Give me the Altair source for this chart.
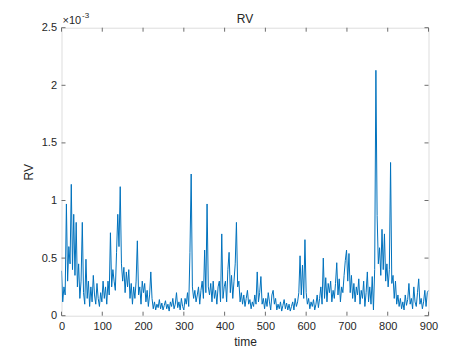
import altair as alt
import pandas as pd

# RV values, in units of 1e-3, sampled every 3 time steps
seg_starts = [0, 102, 201, 300, 402, 501, 600, 702, 801]
rv_000 = [0.39, 0.12, 0.25, 0.18, 0.97, 0.30, 0.60, 0.45, 1.14, 0.40, 0.88, 0.35, 0.81, 0.25, 0.45, 0.15, 0.30,
          0.81, 0.20, 0.10, 0.49, 0.15, 0.30, 0.08, 0.25, 0.12, 0.35, 0.18, 0.10, 0.28, 0.15, 0.08, 0.20, 0.12]
rv_100 = [0.30, 0.15, 0.25, 0.10, 0.30, 0.18, 0.72, 0.25, 0.40, 0.30, 0.22, 0.55, 0.88, 0.60, 1.12, 0.45, 0.30,
          0.42, 0.20, 0.38, 0.25, 0.40, 0.15, 0.28, 0.10, 0.25, 0.15, 0.30, 0.65, 0.18, 0.25, 0.10, 0.30]
rv_200 = [0.20, 0.28, 0.12, 0.22, 0.08, 0.18, 0.38, 0.15, 0.06, 0.12, 0.05, 0.10, 0.07, 0.14, 0.06, 0.11, 0.05,
          0.09, 0.13, 0.06, 0.10, 0.04, 0.12, 0.08, 0.15, 0.06, 0.10, 0.20, 0.07, 0.12, 0.05, 0.15, 0.08]
rv_300 = [0.05, 0.15, 0.10, 0.20, 0.08, 0.55, 1.23, 0.25, 0.15, 0.22, 0.12, 0.18, 0.25, 0.10, 0.22, 0.30, 0.15,
          0.57, 0.20, 0.97, 0.25, 0.18, 0.28, 0.12, 0.30, 0.15, 0.22, 0.10, 0.25, 0.30, 0.12, 0.71, 0.15, 0.25]
rv_400 = [0.30, 0.12, 0.40, 0.55, 0.20, 0.35, 0.15, 0.30, 0.45, 0.81, 0.25, 0.30, 0.12, 0.20, 0.10, 0.18, 0.08,
          0.15, 0.22, 0.10, 0.14, 0.06, 0.12, 0.08, 0.18, 0.10, 0.38, 0.12, 0.20, 0.34, 0.10, 0.15, 0.06]
rv_500 = [0.15, 0.08, 0.20, 0.12, 0.05, 0.18, 0.22, 0.10, 0.15, 0.05, 0.10, 0.06, 0.12, 0.04, 0.09, 0.14, 0.06,
          0.11, 0.05, 0.10, 0.04, 0.08, 0.12, 0.05, 0.15, 0.08, 0.12, 0.20, 0.52, 0.18, 0.44, 0.15, 0.66]
rv_600 = [0.20, 0.10, 0.15, 0.06, 0.12, 0.08, 0.14, 0.05, 0.10, 0.18, 0.07, 0.15, 0.25, 0.10, 0.50, 0.15, 0.33,
          0.12, 0.28, 0.20, 0.30, 0.12, 0.22, 0.15, 0.28, 0.46, 0.18, 0.32, 0.12, 0.25, 0.20, 0.35, 0.48, 0.57]
rv_700 = [0.30, 0.54, 0.20, 0.35, 0.15, 0.28, 0.12, 0.25, 0.18, 0.32, 0.10, 0.22, 0.15, 0.30, 0.08, 0.20, 0.38,
          0.12, 0.25, 0.10, 0.34, 0.05, 0.40, 2.13, 0.87, 0.45, 0.59, 0.35, 0.75, 0.40, 0.71, 0.30, 0.45]
rv_800 = [0.25, 0.40, 1.33, 0.28, 0.35, 0.15, 0.30, 0.10, 0.18, 0.08, 0.15, 0.06, 0.12, 0.05, 0.18, 0.09, 0.14,
          0.28, 0.10, 0.15, 0.06, 0.25, 0.12, 0.08, 0.20, 0.32, 0.10, 0.15, 0.06, 0.12, 0.22, 0.08, 0.20, 0.22]
segments = [rv_000, rv_100, rv_200, rv_300, rv_400, rv_500, rv_600, rv_700, rv_800]

x_ticks = [0, 100, 200, 300, 400, 500, 600, 700, 800, 900]
y_ticks = [0, 0.5, 1, 1.5, 2, 2.5]

time, rv = [], []
for start, seg in zip(seg_starts, segments):
    for i, v in enumerate(seg):
        time.append(start + 3 * i)
        rv.append(v)
df = pd.DataFrame({"time": time, "rv": rv})

W, H = 367, 288
FONT = "Liberation Sans"
TXT = "#262626"
BOX = "#6e6e6e"
TL = 4

xs = alt.Scale(domain=[0, 900], nice=False, zero=False)
ys = alt.Scale(domain=[0, 2.5], nice=False, zero=False)

ax_x = alt.Axis(values=x_ticks, title="time", domain=False, ticks=False, grid=False,
                labelPadding=5, titlePadding=5, labelFontSize=11, titleFontSize=12,
                labelFont=FONT, titleFont=FONT, labelColor=TXT, titleColor=TXT,
                titleFontWeight="normal", labelFlush=False)
ax_y = alt.Axis(values=y_ticks, title="RV", format="~g", domain=False, ticks=False, grid=False,
                labelPadding=5, titlePadding=6, labelFontSize=11, titleFontSize=12,
                labelFont=FONT, titleFont=FONT, labelColor=TXT, titleColor=TXT,
                titleFontWeight="normal", labelFlush=False)

line = alt.Chart(df).mark_line(color="#0072BD", strokeWidth=1, clip=True).encode(
    x=alt.X("time:Q", scale=xs, axis=ax_x),
    y=alt.Y("rv:Q", scale=ys, axis=ax_y),
)

xt = pd.DataFrame({"time": x_ticks})
yt = pd.DataFrame({"rv": y_ticks})

tick_bottom = alt.Chart(xt).mark_rule(color=BOX, strokeWidth=1).encode(
    x=alt.X("time:Q", scale=xs, axis=ax_x), y=alt.value(H), y2=alt.value(H - TL))
tick_top = alt.Chart(xt).mark_rule(color=BOX, strokeWidth=1).encode(
    x=alt.X("time:Q", scale=xs, axis=ax_x), y=alt.value(0), y2=alt.value(TL))
tick_left = alt.Chart(yt).mark_rule(color=BOX, strokeWidth=1).encode(
    y=alt.Y("rv:Q", scale=ys, axis=ax_y), x=alt.value(0), x2=alt.value(TL))
tick_right = alt.Chart(yt).mark_rule(color=BOX, strokeWidth=1).encode(
    y=alt.Y("rv:Q", scale=ys, axis=ax_y), x=alt.value(W), x2=alt.value(W - TL))

title_txt = alt.Chart(pd.DataFrame({"s": ["RV"]})).mark_text(
    align="center", baseline="alphabetic", fontSize=12, font=FONT, color=TXT).encode(
    text="s:N", x=alt.value(W / 2), y=alt.value(-4.5))
exp_base = alt.Chart(pd.DataFrame({"s": ["\u00d710"]})).mark_text(
    align="left", baseline="alphabetic", fontSize=11, font=FONT, color=TXT).encode(
    text="s:N", x=alt.value(1), y=alt.value(-3.8))
exp_sup = alt.Chart(pd.DataFrame({"s": ["-3"]})).mark_text(
    align="left", baseline="alphabetic", fontSize=8, font=FONT, color=TXT).encode(
    text="s:N", x=alt.value(20.5), y=alt.value(-9.4))

chart = alt.layer(line, tick_bottom, tick_top, tick_left, tick_right,
                  title_txt, exp_base, exp_sup).properties(
    width=W, height=H,
    autosize=alt.AutoSizeParams(type="none"),
    padding={"left": 61.5, "top": 27.7, "right": 45.5, "bottom": 39.3},
).configure_view(stroke=BOX, strokeWidth=1).configure(background="white")

chart.save("out.html", embed_options={"renderer": "svg", "actions": False})
